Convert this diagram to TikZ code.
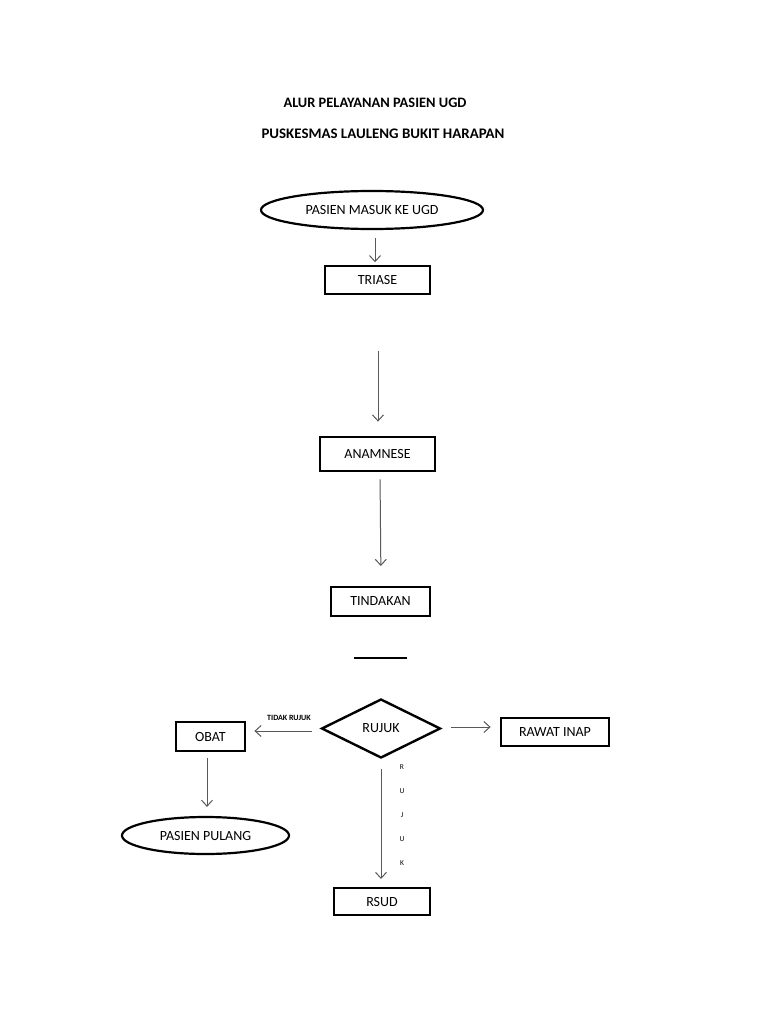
\documentclass[tikz,border=0pt]{standalone}
\usepackage{fontspec}
\setmainfont{Carlito}
\usetikzlibrary{shapes.geometric,arrows.meta}
\begin{document}
\begin{tikzpicture}[x=1pt,y=-1pt,
  txt/.style={font=\fontsize{14}{16}\selectfont},
  box/.style={draw=black,rectangle,inner sep=0pt,txt},
  oval/.style={draw=black,ellipse,inner sep=0pt,line width=2.2pt,txt},
  arr/.style={draw=black!65,line width=1pt,-{Straight Barb[length=6pt,width=11pt]}},
  small/.style={font=\fontsize{8}{9}\selectfont\bfseries,inner sep=0pt},
  letter/.style={font=\fontsize{7.5}{8}\selectfont,inner sep=0pt}]
\useasboundingbox[fill=white] (0,0) rectangle (768,1024);
\node[font=\fontsize{14.4}{16}\selectfont\bfseries] (t1) at (375,103) {ALUR PELAYANAN PASIEN UGD};
\node[font=\fontsize{14.6}{16}\selectfont\bfseries,xscale=1.02] (t2) at (383,134) {PUSKESMAS LAULENG BUKIT HARAPAN};

\node[oval,minimum width=222pt,minimum height=38pt] (masuk) at (372,210) {PASIEN MASUK KE UGD};
\node[box,line width=1.5pt,minimum width=105pt,minimum height=28pt] (triase) at (377.5,280) {TRIASE};
\node[box,line width=2.8pt,minimum width=115pt,minimum height=34pt] (anam) at (377.5,454) {ANAMNESE};
\node[box,line width=2pt,minimum width=99pt,minimum height=29pt] (tind) at (380.5,601.5) {TINDAKAN};
\node[draw=black,diamond,aspect=2,inner sep=0pt,line width=2.4pt,minimum width=119pt,minimum height=59pt,txt] (rujuk) at (381,728.5) {RUJUK};
\node[box,line width=2.8pt,minimum width=69pt,minimum height=29pt] (obat) at (210.5,736.5) {OBAT};
\node[box,line width=2.8pt,minimum width=108pt,minimum height=28pt] (inap) at (555,732) {RAWAT INAP};
\node[oval,minimum width=167pt,minimum height=37pt] (pulang) at (205.5,835.5) {PASIEN PULANG};
\node[box,line width=2pt,minimum width=96pt,minimum height=27pt] (rsud) at (382,901.5) {RSUD};

\draw[arr,shorten <=8pt,shorten >=3pt] ([xshift=3pt]masuk.south) -- ([xshift=-2.5pt]triase.north);
\draw[arr,shorten <=56pt,shorten >=14pt] ([xshift=0.5pt]triase.south) -- ([xshift=0.5pt]anam.north);
\draw[arr,shorten <=7pt,shorten >=20pt] ([xshift=2.5pt]anam.south) -- ([xshift=0.5pt]tind.north);
\coordinate (s1) at (354,658);
\coordinate (s2) at (407,658);
\draw[black,line width=1.2pt] (s1) -- (s2);
\draw[arr,shorten <=8pt,shorten >=8pt] ([yshift=-2.5pt]rujuk.west) -- ([yshift=-2.5pt]rujuk.west -| obat.east);
\node[small] (tr) at (289,718) {TIDAK RUJUK};
\draw[arr,shorten <=9pt,shorten >=9pt] ([yshift=1.5pt]rujuk.east) -- ([yshift=1.5pt]rujuk.east -| inap.west);
\draw[arr,shorten <=6pt,shorten >=9pt] ([xshift=-3.5pt]obat.south) -- ([xshift=-3.5pt]obat.south |- pulang.north);
\draw[arr,shorten <=10pt,shorten >=8pt] (rujuk.south) -- (rujuk.south |- rsud.north);
\node[letter] (r1) at (402,767) {R};
\node[letter] (r2) at (402,791) {U};
\node[letter] (r3) at (402,815) {J};
\node[letter] (r4) at (402,839) {U};
\node[letter] (r5) at (402,863) {K};
\end{tikzpicture}
\end{document}
